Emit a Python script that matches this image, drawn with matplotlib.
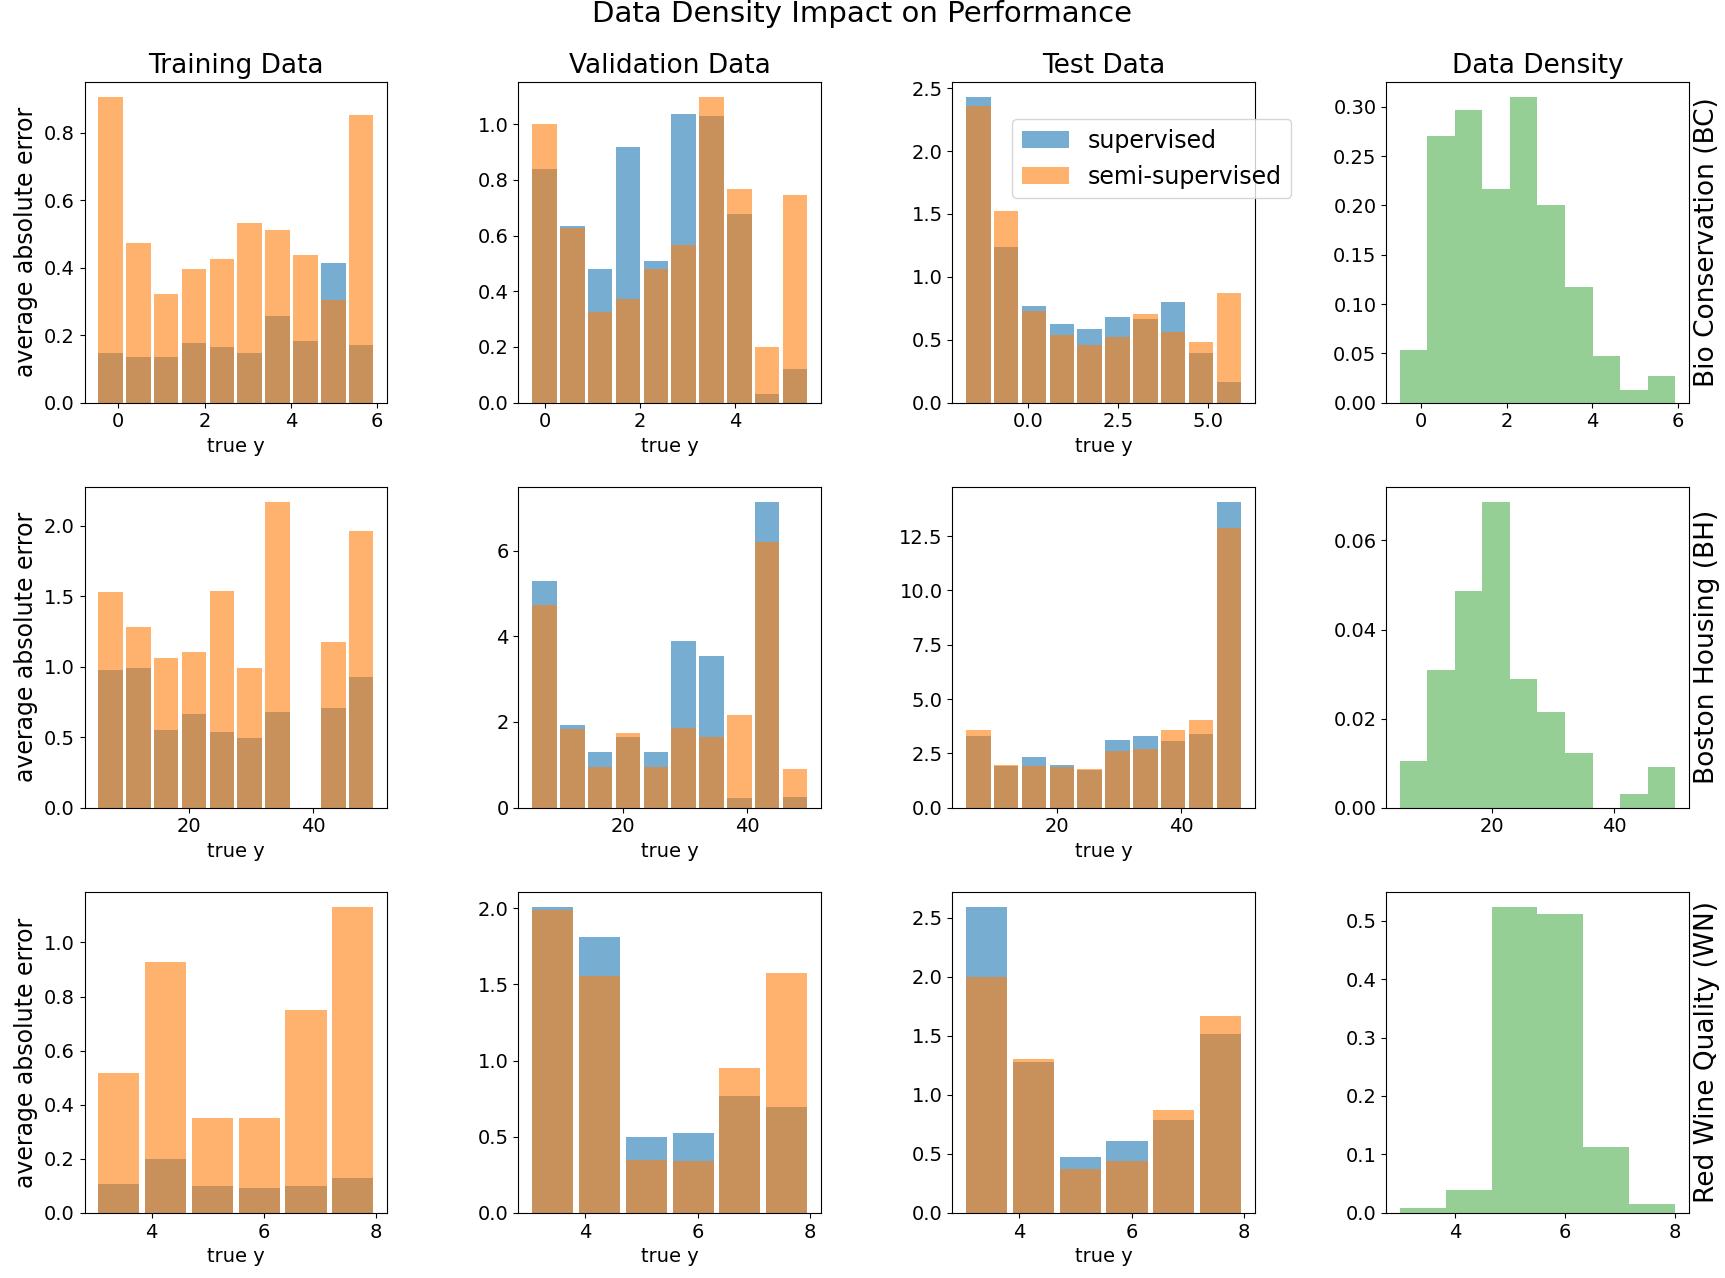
import numpy as np
import matplotlib
matplotlib.use("Agg")
import matplotlib.pyplot as plt
from matplotlib.ticker import MultipleLocator

col_titles = ["Training Data", "Validation Data", "Test Data", "Data Density"]
row_names = ["Bio Conservation (BC)", "Boston Housing (BH)", "Red Wine Quality (WN)"]

# y ranges of the bins per dataset / split (train, val, test, density)
ranges = [
    [(-0.5, 5.95), (-0.31, 5.55), (-1.75, 5.95), (-0.5, 5.93)],
    [(5, 50), (5, 50), (5, 50), (5, 50)],
    [(3, 8), (3, 8), (3, 8), (3, 8)],
]

# supervised errors
bc_sup = [
    [0.146, 0.135, 0.135, 0.177, 0.164, 0.147, 0.256, 0.183, 0.413, 0.171],
    [0.841, 0.635, 0.479, 0.920, 0.509, 1.038, 1.030, 0.679, 0.032, 0.119],
    [2.43, 1.24, 0.77, 0.624, 0.589, 0.677, 0.663, 0.80, 0.393, 0.167],
]
bc_semi = [
    [0.906, 0.474, 0.323, 0.395, 0.425, 0.534, 0.511, 0.438, 0.304, 0.854],
    [1.0, 0.629, 0.326, 0.371, 0.481, 0.566, 1.098, 0.766, 0.20, 0.747],
    [2.36, 1.52, 0.73, 0.539, 0.459, 0.523, 0.703, 0.565, 0.478, 0.868],
]
bh_sup = [
    [0.974, 0.988, 0.552, 0.668, 0.538, 0.493, 0.682, 0.0, 0.711, 0.931],
    [5.30, 1.92, 1.30, 1.64, 1.30, 3.88, 3.54, 0.22, 7.13, 0.25],
    [3.29, 1.91, 2.34, 1.98, 1.72, 3.11, 3.31, 3.08, 3.38, 14.06],
]
bh_semi = [
    [1.53, 1.28, 1.06, 1.107, 1.54, 0.988, 2.168, 0.0, 1.178, 1.962],
    [4.74, 1.83, 0.96, 1.74, 0.96, 1.87, 1.64, 2.16, 6.20, 0.90],
    [3.57, 1.98, 1.94, 1.85, 1.80, 2.60, 2.72, 3.57, 4.03, 12.88],
]
wn_sup = [
    [0.106, 0.198, 0.100, 0.090, 0.100, 0.130],
    [2.006, 1.814, 0.50, 0.521, 0.767, 0.697],
    [2.59, 1.275, 0.47, 0.609, 0.787, 1.516],
]
wn_semi = [
    [0.517, 0.926, 0.349, 0.349, 0.752, 1.13],
    [1.99, 1.555, 0.346, 0.34, 0.953, 1.573],
    [2.0, 1.306, 0.368, 0.439, 0.872, 1.671],
]

# density of true y
bc_density = [0.053, 0.27, 0.297, 0.217, 0.31, 0.20, 0.117, 0.047, 0.013, 0.027]
bh_density = [0.0104, 0.0309, 0.0487, 0.0686, 0.029, 0.0215, 0.0123, 0.0, 0.0031, 0.0091]
wn_density = [0.0074, 0.039, 0.523, 0.512, 0.112, 0.0149]

sup_all = [bc_sup, bh_sup, wn_sup]
semi_all = [bc_semi, bh_semi, wn_semi]
dens_all = [bc_density, bh_density, wn_density]

# x tick spacing per row (and test BC separately)
xstep = [[2, 2, 2.5, 2], [20, 20, 20, 20], [2, 2, 2, 2]]

fig, axes = plt.subplots(3, 4, figsize=(17.25, 12.78), dpi=100)
plt.subplots_adjust(left=0.049, right=0.979, top=0.936, bottom=0.051,
                    wspace=0.434, hspace=0.263)

for r in range(3):
    for c in range(3):
        ax = axes[r, c]
        sup = sup_all[r][c]
        semi = semi_all[r][c]
        lo, hi = ranges[r][c]
        edges = np.linspace(lo, hi, len(sup) + 1)
        centers = (edges[:-1] + edges[1:]) / 2
        w = (edges[1] - edges[0]) * 0.88
        ax.bar(centers, sup, width=w, color="C0", alpha=0.6, label="supervised")
        ax.bar(centers, semi, width=w, color="C1", alpha=0.6, label="semi-supervised")
        ax.set_xlabel("true y", fontsize=14)
        ax.tick_params(labelsize=14)
        ax.xaxis.set_major_locator(MultipleLocator(xstep[r][c]))
        if c == 0:
            ax.set_ylabel("average absolute error", fontsize=17)
        if r == 0:
            ax.set_title(col_titles[c], fontsize=19)
    ax = axes[r, 3]
    dens = dens_all[r]
    lo, hi = ranges[r][3]
    edges = np.linspace(lo, hi, len(dens) + 1)
    ax.bar(edges[:-1], dens, width=np.diff(edges), align="edge", color="C2", alpha=0.5)
    ax.tick_params(labelsize=14)
    ax.xaxis.set_major_locator(MultipleLocator(xstep[r][3]))
    ax.yaxis.set_label_position("right")
    ax.set_ylabel(row_names[r], fontsize=19)
    if r == 0:
        ax.set_title(col_titles[3], fontsize=19)

axes[1, 1].yaxis.set_major_locator(MultipleLocator(2))
axes[1, 2].yaxis.set_major_locator(MultipleLocator(2.5))
axes[1, 3].yaxis.set_major_locator(MultipleLocator(0.02))
axes[0, 2].legend(loc="upper right", bbox_to_anchor=(1.16, 0.92), fontsize=17)

fig.suptitle("Data Density Impact on Performance", fontsize=21, y=1.0, va="top")
fig.savefig("out.png")
